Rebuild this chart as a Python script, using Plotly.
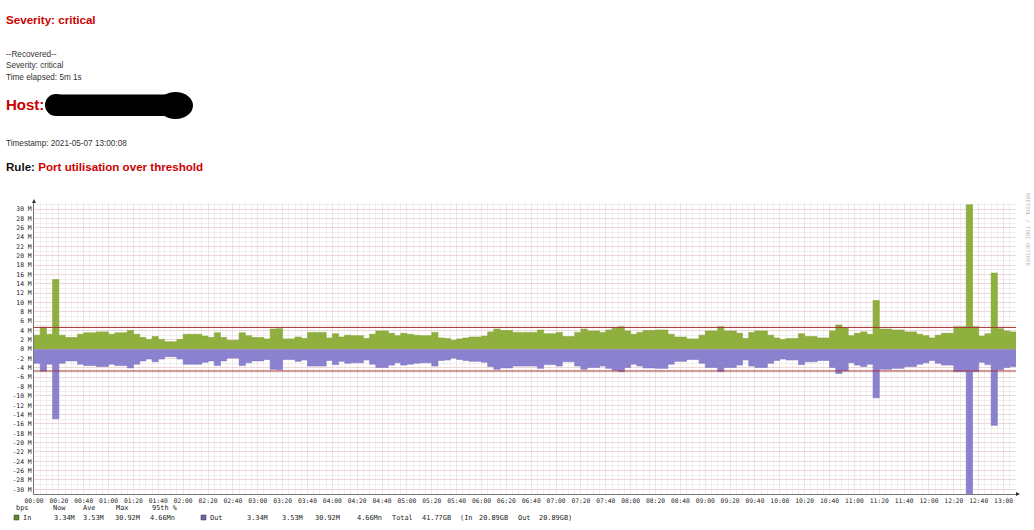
import pandas as pd
import plotly.graph_objects as go

# ---------------- data ----------------
start_time = "2021-05-07 00:00"
step_minutes = 5
end_time = "2021-05-07 13:10"

# In traffic (Mbps) per 5-minute interval; Out mirrors it (same stats in legend)
in_mbps = [
    3.0, 4.7, 3.2, 14.9, 3.0, 2.5, 2.5, 3.2, 3.5, 3.5,
    3.7, 3.7, 3.2, 3.5, 3.5, 4.0, 3.2, 2.5, 2.1, 2.7,
    2.1, 1.6, 1.6, 2.1, 3.2, 3.2, 3.2, 2.8, 2.5, 3.5,
    2.5, 1.9, 1.9, 3.5, 2.9, 2.5, 2.5, 2.2, 4.3, 4.4,
    2.2, 2.2, 2.6, 2.3, 3.6, 3.6, 3.6, 2.4, 3.3, 2.6,
    3.0, 2.9, 2.9, 2.3, 3.2, 3.9, 3.9, 3.4, 2.9, 3.4,
    3.2, 3.0, 2.9, 2.9, 3.6, 2.4, 2.3, 1.9, 2.2, 2.4,
    2.6, 2.6, 2.8, 3.7, 4.3, 4.0, 4.0, 3.6, 3.6, 3.6,
    3.6, 4.1, 3.3, 3.3, 3.6, 2.7, 2.7, 3.6, 4.3, 3.9,
    3.9, 3.6, 4.1, 4.5, 4.8, 3.9, 3.2, 3.6, 4.0, 4.0,
    4.1, 4.1, 3.2, 2.6, 2.6, 2.2, 2.2, 3.0, 3.9, 3.9,
    4.8, 3.9, 3.9, 3.4, 2.3, 3.6, 3.9, 3.9, 3.0, 2.4,
    2.1, 2.3, 2.3, 3.3, 2.7, 2.7, 2.4, 2.4, 3.9, 5.2,
    4.6, 2.9, 3.4, 3.7, 3.2, 10.4, 4.3, 4.3, 4.1, 4.1,
    3.7, 3.7, 3.2, 2.9, 2.4, 3.0, 3.4, 3.4, 4.8, 4.8,
    30.92, 4.8, 2.8, 3.3, 16.3, 4.4, 3.9, 3.7,
]
out_mbps = [-v for v in in_mbps]
p95_mbps = 4.66

y_tick_vals = list(range(-30, 31, 2))
y_tick_text = [f"{v} M" for v in y_tick_vals]

legend_header = [("bps", 14), ("Now", 51), ("Ave", 81), ("Max", 114), ("95th %", 150)]
legend_row = [("In", 21), ("3.34M", 52), ("3.53M", 81), ("30.92M", 113), ("4.66Mn", 148),
              ("Out", 208), ("3.34M", 245), ("3.53M", 280), ("30.92M", 313), ("4.66Mn", 355),
              ("Total", 390), ("41.77GB", 420), ("(In", 458), ("20.89GB", 477),
              ("Out", 516), ("20.89GB)", 537)]

# ---------------- layout constants ----------------
W, H = 1034, 530
ML, MR, MT, MB = 34, 18, 203, 36
PW, PH = W - ML - MR, H - MT - MB


def px(x):
    return (x - ML) / PW


def py(y):
    return ((H - MB) - y) / PH


times = pd.date_range(start_time, periods=len(in_mbps) + 1, freq=f"{step_minutes}min")
in_y = in_mbps + [in_mbps[-1]]
out_y = out_mbps + [out_mbps[-1]]

GREEN = "#8fb03f"
PURPLE = "#8a82cf"
RED = "#cc0000"
MONO = "DejaVu Sans Mono"
SANS = "Arial, Liberation Sans"

fig = go.Figure()
fig.add_trace(go.Scatter(x=times, y=in_y, mode="lines", line=dict(shape="hv", width=0.6, color="#84a534"),
                         fill="tozeroy", fillcolor=GREEN, hoverinfo="skip", showlegend=False))
fig.add_trace(go.Scatter(x=times, y=out_y, mode="lines", line=dict(shape="hv", width=0.6, color="#7d75c4"),
                         fill="tozeroy", fillcolor=PURPLE, hoverinfo="skip", showlegend=False))
for v in (p95_mbps, -p95_mbps):
    fig.add_trace(go.Scatter(x=[times[0], pd.Timestamp(end_time)], y=[v, v], mode="lines",
                             line=dict(color="#a83232", width=1), hoverinfo="skip", showlegend=False))

fig.update_layout(
    width=W, height=H,
    margin=dict(l=ML, r=MR, t=MT, b=MB),
    paper_bgcolor="white", plot_bgcolor="white",
    showlegend=False,
)
MAJ = "rgba(235,190,190,0.45)"
MIN = "rgba(215,210,210,0.35)"
fig.update_xaxes(
    range=[start_time, end_time], type="date",
    dtick=20 * 60 * 1000, tick0=start_time, tickformat="%H:%M",
    tickfont=dict(family=MONO, size=6.3, color="#222"),
    showgrid=True, gridcolor=MAJ, gridwidth=1,
    minor=dict(dtick=5 * 60 * 1000, tick0=start_time, showgrid=True, gridcolor=MIN),
    showline=True, linecolor="#777", linewidth=1, zeroline=False, ticks="",
    layer="below traces",
)
fig.update_yaxes(
    range=[-31, 31.3],
    tickmode="array", tickvals=y_tick_vals, ticktext=y_tick_text,
    tickfont=dict(family=MONO, size=6.4, color="#222"),
    showgrid=True, gridcolor=MAJ, gridwidth=1,
    minor=dict(tickmode="linear", dtick=1, tick0=0, showgrid=True, gridcolor=MIN),
    showline=True, linecolor="#777", linewidth=1, zeroline=False, ticks="",
    layer="below traces",
)

ann = []


def text(x, y, s, size, color="#333", family=SANS, **kw):
    ann.append(dict(x=px(x), y=py(y), xref="paper", yref="paper", text=s, showarrow=False,
                    xanchor="left", yanchor="middle", font=dict(family=family, size=size, color=color), **kw))


text(4, 19.5, "<b>Severity: critical</b>", 11.6, RED)
text(4, 54.5, "--Recovered--", 8.2)
text(4, 66, "Severity: critical", 8.2)
text(4, 77.5, "Time elapsed: 5m 1s", 8.2)
text(4, 104, "<b>Host:</b>", 15, RED)
text(4, 143, "Timestamp: 2021-05-07 13:00:08", 8.2)
text(4, 166, "<b>Rule: <span style='color:#cc0000'>Port utilisation over threshold</span></b>", 11.6, "#111")

for s, x in legend_header:
    text(x, 508, s, 6.9, "#222", MONO)
for s, x in legend_row:
    text(x, 517.5, s, 6.9, "#222", MONO)

# watermark
ann.append(dict(x=px(1028), y=py(230), xref="paper", yref="paper", text="RRDTOOL / TOBI OETIKER",
                xanchor="center", yanchor="middle",
                showarrow=False, textangle=90, font=dict(family=MONO, size=5.5, color="#bbbbbb")))

fig.update_layout(annotations=ann)

shapes = []
# redaction blob over host name
shapes.append(dict(type="circle", xref="paper", yref="paper", x0=px(45), x1=px(67), y0=py(116), y1=py(94),
                   fillcolor="black", line=dict(width=0)))
shapes.append(dict(type="rect", xref="paper", yref="paper", x0=px(56), x1=px(178), y0=py(116), y1=py(94.5),
                   fillcolor="black", line=dict(width=0)))
shapes.append(dict(type="circle", xref="paper", yref="paper", x0=px(158), x1=px(193), y0=py(119), y1=py(92),
                   fillcolor="black", line=dict(width=0)))
# legend colour squares
shapes.append(dict(type="rect", xref="paper", yref="paper", x0=px(14), x1=px(19), y0=py(520), y1=py(515),
                   fillcolor="#5f8a25", line=dict(width=0.5, color="#333")))
shapes.append(dict(type="rect", xref="paper", yref="paper", x0=px(201), x1=px(206), y0=py(520), y1=py(515),
                   fillcolor="#6f68b0", line=dict(width=0.5, color="#333")))
# axis arrows
shapes.append(dict(type="path", xref="paper", yref="paper",
                   path=f"M {px(32)} {py(203)} L {px(36)} {py(203)} L {px(34)} {py(199)} Z",
                   fillcolor="#333", line=dict(width=0)))
shapes.append(dict(type="path", xref="paper", yref="paper",
                   path=f"M {px(1016)} {py(492)} L {px(1016)} {py(496)} L {px(1020)} {py(494)} Z",
                   fillcolor="#333", line=dict(width=0)))
fig.update_layout(shapes=shapes)

fig.write_html("out.html", config={"displayModeBar": False},
               post_script="document.body.style.margin='0';document.body.style.overflow='hidden';")
